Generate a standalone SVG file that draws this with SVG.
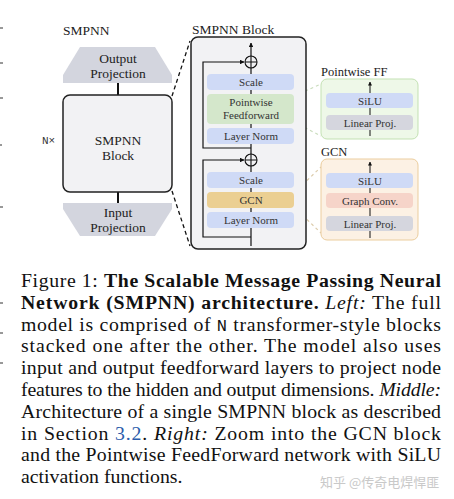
<svg xmlns="http://www.w3.org/2000/svg" width="454" height="499" viewBox="0 0 454 499" font-family="'Liberation Serif','Times New Roman',serif">
<defs>
<marker id="ah" viewBox="0 0 10 10" refX="9" refY="5" markerWidth="4" markerHeight="4" orient="auto"><path d="M0,0 L10,5 L0,10 z" fill="#111"/></marker>
<style>
text{font-family:"Liberation Serif","Times New Roman",serif}
.t{fill:#222}
.lbl{font-size:13.5px;text-anchor:middle}
.sm{font-size:11px;text-anchor:middle;fill:#333}
.blue{fill:#cfdaf6}
.gray{fill:#d5d6de}
.cap{font-size:19.8px;fill:#111}
.b{font-weight:bold}
.i{font-style:italic}
.mono{font-family:"Liberation Mono","DejaVu Sans Mono",monospace}
.cjk{font-family:"Noto Sans CJK SC","Noto Sans",sans-serif}
.line{stroke:#111;fill:none}
</style>
</defs>
<rect width="454" height="499" fill="#fff"/>
<g id="margin-marks" stroke="#333" stroke-width="1">
<line x1="0" y1="28" x2="3" y2="28"/><line x1="0" y1="63" x2="3" y2="63"/><line x1="0" y1="98" x2="3" y2="98"/><line x1="0" y1="145" x2="2" y2="145"/><line x1="0" y1="207" x2="3" y2="207"/><line x1="0" y1="303" x2="3" y2="303"/><line x1="0" y1="333" x2="3" y2="333"/><line x1="0" y1="363" x2="3" y2="363"/>
</g>
<text class="t" x="63" y="35" font-size="13.5">SMPNN</text>
<text class="t" x="192" y="34" font-size="13.5">SMPNN Block</text>
<g id="connectors">
<line class="line" x1="118" y1="83" x2="118" y2="95" stroke-width="2"/>
<line class="line" x1="118" y1="192" x2="118" y2="203" stroke-width="2"/>
<line class="line" x1="172" y1="96" x2="190" y2="41" stroke-width="1.3" stroke-dasharray="4,3"/>
<line class="line" x1="172" y1="191" x2="190" y2="246" stroke-width="1.3" stroke-dasharray="4,3"/>
<line x1="294" y1="96" x2="321" y2="84" stroke="#c9dcbc" stroke-width="1.2" stroke-dasharray="3,3"/>
<line x1="294" y1="122" x2="321" y2="136" stroke="#c9dcbc" stroke-width="1.2" stroke-dasharray="3,3"/>
<line x1="294" y1="193" x2="321" y2="167" stroke="#dccbaa" stroke-width="1.2" stroke-dasharray="3,3"/>
<line x1="294" y1="207" x2="321" y2="233" stroke="#dccbaa" stroke-width="1.2" stroke-dasharray="3,3"/>
</g>
<g id="output-projection">
<polygon points="80,47 155,47 172,75 172,83 63,83 63,75" fill="#d3d5de"/>
<text class="t lbl" x="118" y="63">Output</text>
<text class="t lbl" x="118" y="78">Projection</text>
</g>
<g id="smpnn-block">
<rect x="63" y="95" width="109" height="97" rx="7" fill="#f2f2f4" stroke="#222" stroke-width="1.5"/>
<text class="t lbl" x="118" y="145">SMPNN</text>
<text class="t lbl" x="118" y="160">Block</text>
<text x="42" y="144" font-size="11" class="mono" fill="#333">N×</text>
</g>
<g id="input-projection">
<polygon points="63,203 172,203 172,209 155,236 80,236 63,209" fill="#d3d5de"/>
<text class="t lbl" x="118" y="217">Input</text>
<text class="t lbl" x="118" y="232">Projection</text>
</g>
<g id="middle-block">
<rect x="191" y="37" width="115" height="212" rx="7" fill="#f2f2f4" stroke="#222" stroke-width="1.5"/>
<line class="line" x1="251" y1="246" x2="251" y2="43" stroke-width="1.2" marker-end="url(#ah)"/>
<path class="line" d="M251,148 H203 V62 H244" stroke-width="1.2" marker-end="url(#ah)"/>
<path class="line" d="M251,237 H203 V160 H244" stroke-width="1.2" marker-end="url(#ah)"/>
<g id="add1"><circle cx="251" cy="62" r="6" fill="#f2f2f4" stroke="#111" stroke-width="1.1"/><path class="line" d="M245,62 H257 M251,56 V68" stroke-width="1.1"/></g>
<g id="add2"><circle cx="251" cy="160" r="6" fill="#f2f2f4" stroke="#111" stroke-width="1.1"/><path class="line" d="M245,160 H257 M251,154 V166" stroke-width="1.1"/></g>
<g id="scale1"><rect class="blue" x="207" y="74" width="87" height="16" rx="4"/><text class="t sm" x="251" y="86">Scale</text></g>
<g id="pointwise-feedforward"><rect x="207" y="94" width="87" height="30" rx="4" fill="#d4e7cb"/><text class="t sm" x="251" y="106">Pointwise</text><text class="t sm" x="251" y="119">Feedforward</text></g>
<g id="layernorm1"><rect class="blue" x="207" y="128" width="87" height="16" rx="4"/><text class="t sm" x="251" y="140">Layer Norm</text></g>
<g id="scale2"><rect class="blue" x="207" y="172" width="87" height="16" rx="4"/><text class="t sm" x="251" y="184">Scale</text></g>
<g id="gcn"><rect x="207" y="192" width="87" height="16" rx="4" fill="#ebcf92"/><text class="t sm" x="251" y="204">GCN</text></g>
<g id="layernorm2"><rect class="blue" x="207" y="212" width="87" height="16" rx="4"/><text class="t sm" x="251" y="224">Layer Norm</text></g>
</g>
<g id="pointwise-ff">
<text class="t" x="321" y="76" font-size="12.5">Pointwise FF</text>
<rect x="321" y="79" width="97" height="60" rx="6" fill="#eef8e8" stroke="#c3e1b3" stroke-width="1"/>
<line class="line" x1="370" y1="136" x2="370" y2="82" stroke-width="1" marker-end="url(#ah)"/>
<g id="ff-silu"><rect class="blue" x="326" y="93" width="87" height="15" rx="4"/><text class="t sm" x="370" y="104.5">SiLU</text></g>
<g id="ff-linear"><rect class="gray" x="326" y="115" width="87" height="15" rx="4"/><text class="t sm" x="370" y="126.5">Linear Proj.</text></g>
</g>
<g id="gcn-detail">
<text class="t" x="321" y="156" font-size="12.5">GCN</text>
<rect x="321" y="159" width="97" height="81" rx="6" fill="#fcf1e4" stroke="#ebcd9e" stroke-width="1"/>
<line class="line" x1="370" y1="238" x2="370" y2="162" stroke-width="1" marker-end="url(#ah)"/>
<g id="gcn-silu"><rect class="blue" x="326" y="173" width="87" height="15" rx="4"/><text class="t sm" x="370" y="184.5">SiLU</text></g>
<g id="graph-conv"><rect x="326" y="193" width="87" height="15" rx="4" fill="#f6d4c9"/><text class="t sm" x="370" y="204.5">Graph Conv.</text></g>
<g id="gcn-linear"><rect class="gray" x="326" y="216" width="87" height="15" rx="4"/><text class="t sm" x="370" y="227.5">Linear Proj.</text></g>
</g>
<g id="caption">
<text class="cap" x="21" y="287" textLength="420" lengthAdjust="spacing">Figure 1: <tspan class="b">The Scalable Message Passing Neural</tspan></text>
<text class="cap" x="21" y="308.8" textLength="420" lengthAdjust="spacing"><tspan class="b">Network (SMPNN) architecture.</tspan> <tspan class="i">Left:</tspan> The full</text>
<text class="cap" x="21" y="330.6" textLength="420" lengthAdjust="spacing">model is comprised of <tspan class="mono" font-size="17">N</tspan> transformer-style blocks</text>
<text class="cap" x="21" y="352.4" textLength="420" lengthAdjust="spacing">stacked one after the other.  The model also uses</text>
<text class="cap" x="21" y="374.2" textLength="420" lengthAdjust="spacing">input and output feedforward layers to project node</text>
<text class="cap" x="21" y="396" textLength="420" lengthAdjust="spacing">features to the hidden and output dimensions. <tspan class="i">Middle:</tspan></text>
<text class="cap" x="21" y="417.8" textLength="420" lengthAdjust="spacing">Architecture of a single SMPNN block as described</text>
<text class="cap" x="21" y="439.6" textLength="420" lengthAdjust="spacing">in Section <tspan fill="#2b5cab">3.2</tspan>. <tspan class="i">Right:</tspan> Zoom into the GCN block</text>
<text class="cap" x="21" y="461.4" textLength="420" lengthAdjust="spacing">and the Pointwise FeedForward network with SiLU</text>
<text class="cap" x="21" y="483.2">activation functions.</text>
</g>
<text class="cjk" x="320" y="487" font-size="13" fill="#c9c9c9">知乎 @传奇电焊悍匪</text>
</svg>
